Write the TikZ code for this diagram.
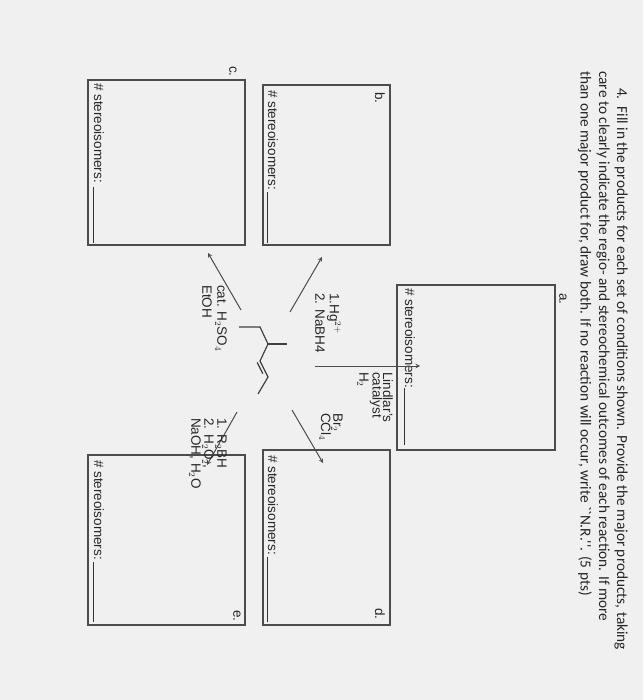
\documentclass[tikz,border=0pt]{standalone}
\usepackage{fontspec}
\usetikzlibrary{calc}
\setmainfont{Liberation Sans}
\newfontfamily\calfnt{Carlito}
\begin{document}
\begin{tikzpicture}[x=1pt,y=-1pt,
  rt/.style={rotate=-90,anchor=west,inner sep=0pt,text=black!85,font=\fontsize{13.5}{15}\selectfont},
  ins/.style={rotate=-90,anchor=west,inner sep=0pt,text=black!85,font=\calfnt\fontsize{15.3}{17}\selectfont},
  bx/.style={draw=black!70,line width=1.3pt},
  ar/.style={draw=black!70,line width=1pt,-stealth},
  bond/.style={draw=black!75,line width=1.2pt}]
\fill[black!6] (0,0) rectangle (643,700);
\useasboundingbox (0,0) rectangle (643,700);
% instructions
\node[ins] (t1) at (621,88) {4.\ \ Fill in the products for each set of conditions shown. Provide the major products, taking};
\node[ins] (t2) at (603,71) {care to clearly indicate the regio- and stereochemical outcomes of each reaction. If more};
\node[ins] (t3) at (585,71) {than one major product for, draw both. If no reaction will occur, write ``N.R.''. (5 pts)};
% boxes
\draw[bx] (397,285) rectangle (555,450);
\node[rt] (la) at (563,293) {a.};
\node[rt] (sa) at (410,288) {\# stereoisomers:};
\draw[black!80] (404,388) -- (404,445);
\draw[bx] (263,85) rectangle (390,245);
\node[rt] (lb) at (380,92) {b.};
\node[rt] (sb) at (273,90) {\# stereoisomers:};
\draw[black!80] (267,192) -- (267,243);
\draw[bx] (88,80) rectangle (245,245);
\node[rt] (lc) at (233,66) {c.};
\node[rt] (sc) at (99,83) {\# stereoisomers:};
\draw[black!80] (93,187) -- (93,243);
\draw[bx] (263,450) rectangle (390,625);
\node[rt] (ld) at (380,608) {d.};
\node[rt] (sd) at (273,455) {\# stereoisomers:};
\draw[black!80] (267,557) -- (267,622);
\draw[bx] (88,455) rectangle (245,625);
\node[rt] (le) at (237,610) {e.};
\node[rt] (se) at (99,460) {\# stereoisomers:};
\draw[black!80] (93,562) -- (93,622);
% molecule
\coordinate (m1) at (239,327);
\coordinate (m2) at (260,327);
\coordinate (m3) at (268,344);
\coordinate (m4) at (287,344);
\coordinate (m5) at (260,361);
\coordinate (m6) at (268,377);
\coordinate (m7) at (258,394);
\draw[bond] (m1) -- (m2) -- (m3) -- (m5) -- (m6) -- (m7);
\draw[bond] (m3) -- (m4);
\draw[bond] ($(m5)!0.15!(m6)+(-4,-1)$) -- ($(m5)!0.85!(m6)+(-4,-1)$);
% arrows
\draw[ar] (315,366) -- (420,366);
\draw[ar] (290,312) -- (322,257);
\draw[ar] (241,310) -- (208,253);
\draw[ar] (292,410) -- (323,463);
\draw[ar] (237,412) -- (207,465);
% labels
\node[rt] (ra) at (388,372) {Lindlar's};
\node[rt] (ra2) at (376,372) {catalyst};
\node[rt] (ra3) at (363,372) {H$_2$};
\node[rt] (rb) at (334,293) {1.Hg$^{2+}$};
\node[rt] (rb2) at (320,293) {2. NaBH4};
\node[rt] (rc) at (221,285) {cat. H$_2$SO$_4$};
\node[rt] (rc2) at (207,285) {EtOH};
\node[rt] (rd) at (337,413) {Br$_2$};
\node[rt] (rd2) at (325,413) {CCl$_4$};
\node[rt] (re) at (221,418) {1. R$_2$BH};
\node[rt] (re2) at (208,418) {2. H$_2$O$_2$,};
\node[rt] (re3) at (195,418) {NaOH, H$_2$O};
\end{tikzpicture}
\end{document}
